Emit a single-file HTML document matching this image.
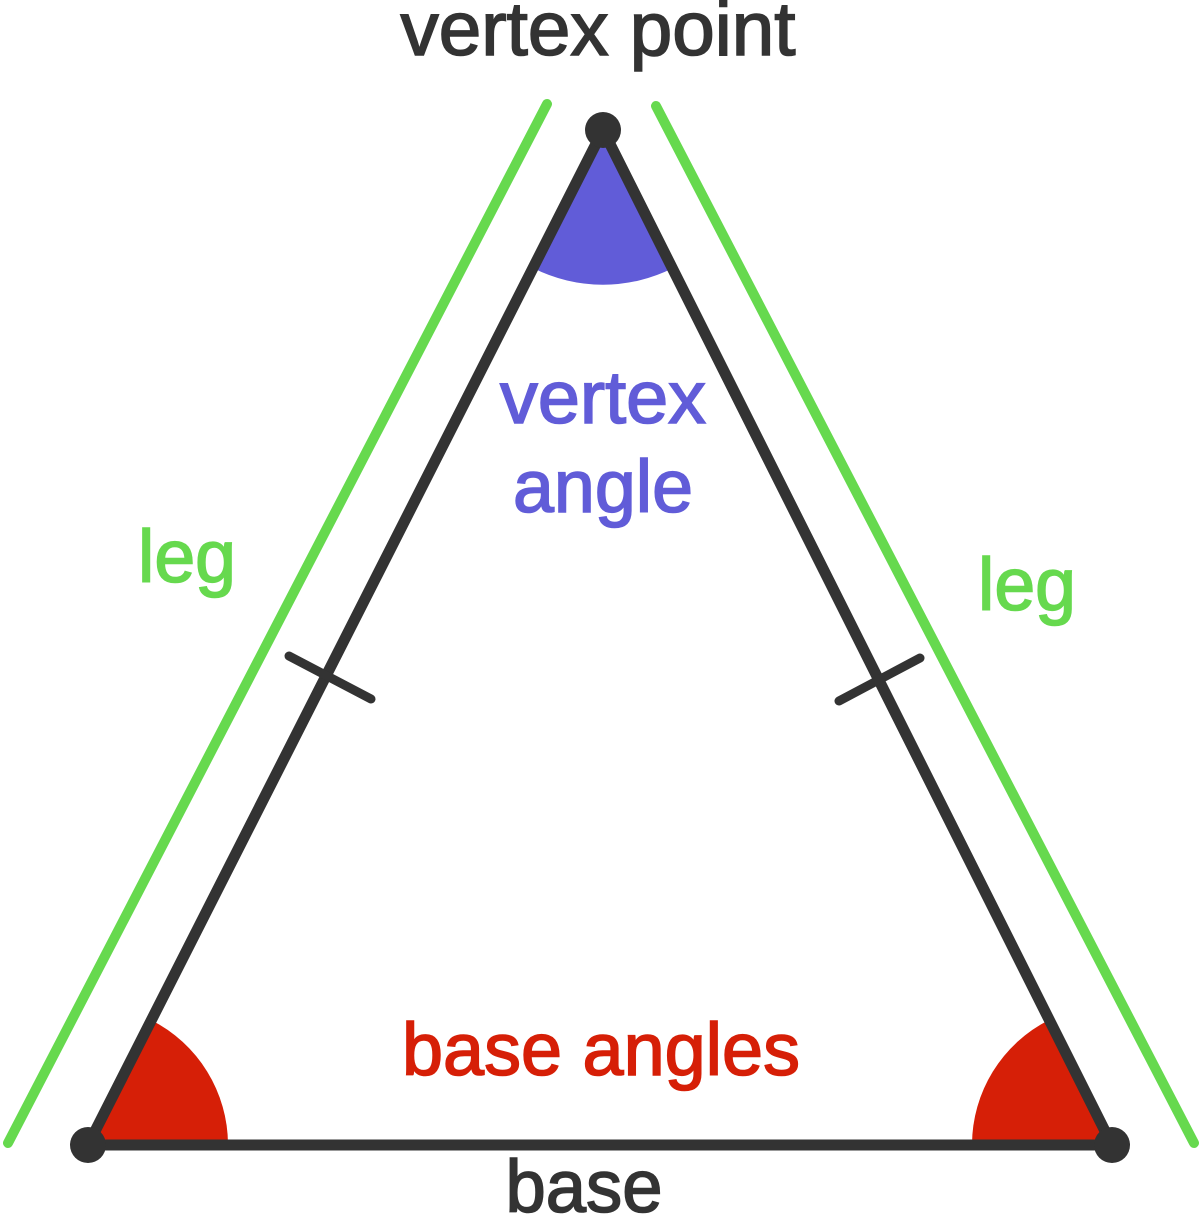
<!DOCTYPE html>
<html>
<head>
<meta charset="utf-8">
<style>
html,body{margin:0;padding:0;background:#fff;}
svg{display:block;}
text{font-family:"Liberation Sans",Arial,sans-serif;stroke-width:1.6;}
</style>
</head>
<body>
<svg width="1200" height="1218" viewBox="0 0 1200 1218" xmlns="http://www.w3.org/2000/svg">
  <line x1="547" y1="104" x2="8" y2="1143" stroke="#66d94e" stroke-width="10" stroke-linecap="round"/>
  <line x1="656" y1="106" x2="1194" y2="1143" stroke="#66d94e" stroke-width="10" stroke-linecap="round"/>
  <path d="M603,130 L533,268 A155,155 0 0 0 673,268 Z" fill="#615cd8"/>
  <path d="M88,1145 L151,1020 A140,140 0 0 1 228,1145 Z" fill="#d61f07"/>
  <path d="M1112,1145 L1049,1020 A140,140 0 0 0 972,1145 Z" fill="#d61f07"/>
  <path d="M603,130 L88,1145 L1112,1145 Z" fill="none" stroke="#333" stroke-width="11" stroke-linejoin="round"/>
  <line x1="289" y1="656" x2="371" y2="699" stroke="#333" stroke-width="9" stroke-linecap="round"/>
  <line x1="839" y1="701" x2="920" y2="658" stroke="#333" stroke-width="9" stroke-linecap="round"/>
  <circle cx="603" cy="130" r="18" fill="#333"/>
  <circle cx="88" cy="1145" r="18" fill="#333"/>
  <circle cx="1112" cy="1145" r="18" fill="#333"/>
  <text x="598" y="55" font-size="76" fill="#333" stroke="#333" text-anchor="middle" textLength="395" lengthAdjust="spacingAndGlyphs">vertex point</text>
  <text x="603" y="423" font-size="74" fill="#615cd8" stroke="#615cd8" text-anchor="middle" textLength="206" lengthAdjust="spacingAndGlyphs">vertex</text>
  <text x="603" y="512" font-size="74" fill="#615cd8" stroke="#615cd8" text-anchor="middle" textLength="180" lengthAdjust="spacingAndGlyphs">angle</text>
  <text x="187" y="582" font-size="74" fill="#66d94e" stroke="#66d94e" text-anchor="middle" textLength="98" lengthAdjust="spacingAndGlyphs">leg</text>
  <text x="1027" y="610" font-size="74" fill="#66d94e" stroke="#66d94e" text-anchor="middle" textLength="98" lengthAdjust="spacingAndGlyphs">leg</text>
  <text x="601" y="1075" font-size="74" fill="#d61f07" stroke="#d61f07" text-anchor="middle" textLength="398" lengthAdjust="spacingAndGlyphs">base angles</text>
  <text x="584" y="1212" font-size="74" fill="#333" stroke="#333" text-anchor="middle" textLength="157" lengthAdjust="spacingAndGlyphs">base</text>
</svg>
</body>
</html>
